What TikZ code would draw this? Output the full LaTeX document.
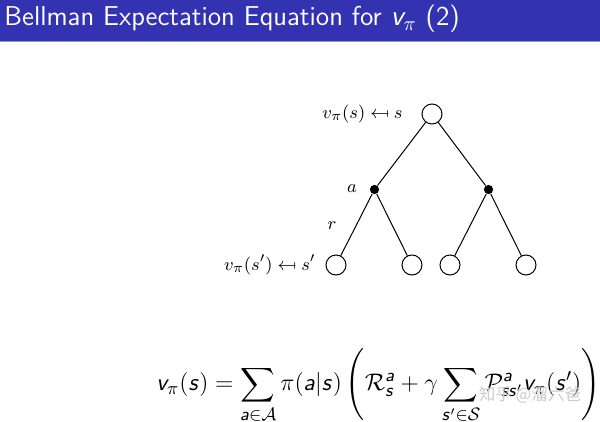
\documentclass[tikz,border=0pt]{standalone}
\usepackage{amsmath}
\usepackage{fontspec}
\newfontfamily\cjk{Noto Sans CJK SC}
\DeclareMathAlphabet{\mathsfit}{OT1}{cmss}{m}{sl}
\definecolor{titleblue}{rgb}{0.2,0.2,0.7}
\newcommand{\mapsfromx}{\mathrel{\leftarrow\mkern-2.7mu\mapstochar\mkern2.7mu}}
\newcommand{\lpx}{\mathopen{\mathsf{(}}}
\newcommand{\rpx}{\mathclose{\mathsf{)}}}
\begin{document}
\begin{tikzpicture}[x=0.5pt,y=-0.5pt,
  open/.style={circle,draw,line width=0.5pt,minimum size=10pt,inner sep=0pt},
  dotnode/.style={circle,fill=black,minimum size=4.6pt,inner sep=0pt},
  lab/.style={inner sep=0pt,font=\fontsize{9.5}{11}\selectfont},
  edge/.style={line width=0.5pt}]
\useasboundingbox (0,0) rectangle (600,422);
\fill[titleblue] (0,0) rectangle (600,41);
\fill[titleblue!55] (0,41) rectangle (600,42.5);
\node[anchor=base west,text=white,inner sep=0pt,font=\fontsize{13.65}{16}\sffamily] (title) at (4,26) {Bellman Expectation Equation for $\mathsfit{v}_\pi$ (2)};
% tree
\node[open] (root) at (432,114) {};
\node[dotnode] (a1) at (374.5,189.5) {};
\node[dotnode] (a2) at (488.5,189.5) {};
\node[open] (l1) at (336,265) {};
\node[open] (l2) at (412,265) {};
\node[open] (l3) at (450,265) {};
\node[open] (l4) at (526,265) {};
\draw[edge] (root) -- (a1);
\draw[edge] (root) -- (a2);
\draw[edge] (a1) -- (l1);
\draw[edge] (a1) -- (l2);
\draw[edge] (a2) -- (l3);
\draw[edge] (a2) -- (l4);
\node[lab,anchor=east] (ls) at (403,114) {$v_\pi(s) \mapsfromx s$};
\node[lab] (la) at (352,189) {$a$};
\node[lab] (lr) at (332,226) {$r$};
\node[lab,anchor=east] (ls2) at (316,265) {$v_\pi(s') \mapsfromx s'$};
% equation
\node[anchor=base west,inner sep=0pt,font=\fontsize{12.4}{14}\selectfont] (eq) at (156,391)
 {$\displaystyle \mathsfit{v}_\pi\lpx\mathsfit{s}\rpx = \sum_{\mathsfit{a}\in\mathcal{A}} \pi\lpx\mathsfit{a}|\mathsfit{s}\rpx \left(\mathcal{R}^{\mathsfit{a}}_{\mathsfit{s}} + \gamma \sum_{\mathsfit{s}'\in\mathcal{S}} \mathcal{P}^{\mathsfit{a}}_{\mathsfit{ss}'} \mathsfit{v}_\pi\lpx\mathsfit{s}'\rpx\right)$};
\node[text=gray!40,inner sep=0pt,font=\cjk\fontsize{8.3}{9}\selectfont] (wm) at (530,395) {知乎 @溜六爸};
\end{tikzpicture}
\end{document}
